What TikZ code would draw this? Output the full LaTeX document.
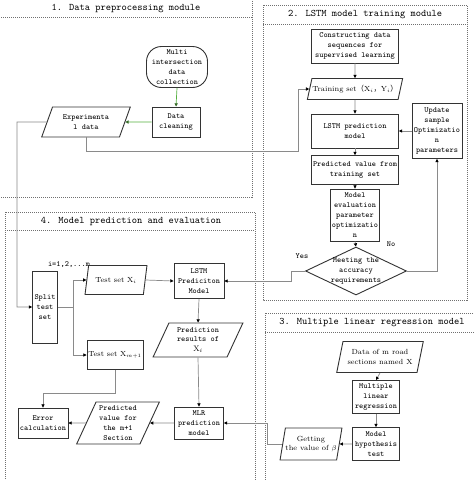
\documentclass[tikz,border=0pt]{standalone}
\usepackage{fontspec}
\newfontfamily\cjk{Noto Sans CJK SC}
\usetikzlibrary{shapes.geometric,arrows.meta}
\definecolor{lineg}{HTML}{8A8A8A}
\definecolor{boxc}{HTML}{333333}
\definecolor{frm}{HTML}{707070}
\definecolor{grn}{HTML}{55B040}
\tikzset{
  txt/.style={font=\fontsize{7.9}{9.8}\selectfont\ttfamily, align=center, inner sep=0pt},
  rtxt/.style={font=\fontsize{7.4}{9.8}\selectfont\rmfamily, align=center, inner sep=0pt},
  box/.style={txt, draw=boxc, line width=0.9pt, rectangle},
  para/.style={txt, draw=boxc, line width=0.9pt, trapezium, trapezium left angle=#1, trapezium right angle=180-#1, trapezium stretches=true},
  stad/.style={txt, draw=boxc, line width=0.9pt, rectangle, rounded corners=15pt},
  dia/.style={draw=boxc, line width=0.9pt, diamond, inner sep=0pt},
  conn/.style={draw=lineg, line width=0.7pt, -{Triangle[length=3.2pt,width=3.2pt,color=black]}},
  gconn/.style={draw=grn, line width=0.7pt, -{Triangle[length=3.2pt,width=3.2pt,color=grn!60!black]}},
  plain/.style={draw=lineg, line width=0.7pt},
  frame/.style={draw=frm, line width=0.6pt, dash pattern=on 1pt off 1pt},
  ttl/.style={font=\fontsize{10}{12}\selectfont\ttfamily, inner sep=0pt},
  lbl/.style={font=\fontsize{7.9}{9.8}\selectfont\ttfamily, inner sep=0pt}
}
\begin{document}
\begin{tikzpicture}[x=1pt,y=-1pt]
\useasboundingbox[fill=white] (0,0) rectangle (474,480);
% module frames
\draw[frame] (-5,-5) rectangle (252,197);
\draw[frame] (-5,17) -- (252,17);
\draw[frame] (263,5) rectangle (467,300);
\draw[frame] (263,24) -- (467,24);
\draw[frame] (5,212) rectangle (255,490);
\draw[frame] (5,230) -- (255,230);
\draw[frame] (265,313) rectangle (480,490);
\draw[frame] (265,332) -- (480,332);
\node[ttl] (t1) at (126,9) {1. Data preprocessing module};
\node[ttl] (t2) at (365,15) {2. LSTM model training module};
\node[ttl] (t4) at (131,221) {4. Model prediction and evaluation};
\node[ttl] (t3) at (372,323) {3. Multiple linear regression model};
% module 1
\node[stad, minimum width=61pt, minimum height=41pt] (mdc) at (177,67) {Multi\\intersection\\data\\collection};
\node[box, minimum width=48pt, minimum height=30pt] (clean) at (176,122) {Data\\cleaning};
\node[para=63, minimum width=89pt, minimum height=30pt] (exp) at (86,122) {Experimenta\\l data};
% module 2
\node[box, minimum width=87pt, minimum height=34pt] (cons) at (355,46) {Constructing data\\sequences for\\supervised learning};
\node[para=60, rtxt, draw=boxc, minimum width=96pt, minimum height=21pt] (train) at (355,89) {Training set{\cjk （}X$_{i}${\cjk ，}Y$_{i}${\cjk ）}};
\node[box, minimum width=87pt, minimum height=34pt] (lstm1) at (355,131) {LSTM prediction\\model};
\node[box, minimum width=50pt, minimum height=55pt] (upd) at (437,131) {Update\\sample\\Optimizatio\\n\\parameters};
\node[box, minimum width=87pt, minimum height=29pt] (pv) at (355,170) {Predicted value from\\training set};
\node[box, minimum width=49pt, minimum height=52pt] (meval) at (355,215) {Model\\evaluation\\parameter\\optimizatio\\n};
\node[dia, minimum width=101pt, minimum height=48pt] (dia) at (356,271) {};
\node[txt] (diat) at (356,271) {Meeting the\\accuracy\\requirements};
\node[lbl] (no) at (391,244) {No};
\node[lbl] (yes) at (302,256) {Yes};
% module 4
\node[box, minimum width=25pt, minimum height=72pt] (split) at (45,307) {Split\\test\\set};
\node[lbl] (iset) at (69,265) {i=1,2,...m};
\node[para=66, rtxt, draw=boxc, minimum width=62pt, minimum height=29pt] (tsi) at (116,280) {Test set X$_{i}$};
\node[box, minimum width=50pt, minimum height=35pt] (lstm2) at (199,281) {LSTM\\Prediciton\\Model};
\node[para=66, minimum width=90pt, minimum height=34pt] (pres) at (198,340) {Prediction\\results of\\{\rmfamily X$_{i}$}};
\node[box, rtxt, draw=boxc, minimum width=56pt, minimum height=29pt] (tsm) at (115,355) {Test set X$_{m+1}$};
\node[box, minimum width=50pt, minimum height=30pt] (err) at (43,423) {Error\\calculation};
\node[para=64, minimum width=83pt, minimum height=42pt] (pvm) at (118,423) {Predicted\\value for\\the m+1\\Section};
\node[box, minimum width=49pt, minimum height=32pt] (mlr) at (199,423) {MLR\\prediction\\model};
% module 3
\node[para=70, rtxt, draw=boxc, minimum width=87pt, minimum height=31pt] (dmr) at (380,357) {Data of m road\\sections named X};
\node[box, minimum width=47pt, minimum height=33pt] (mlreg) at (376,397) {Multiple\\linear\\regression};
\node[box, minimum width=47pt, minimum height=33pt] (mht) at (376,444) {Model\\hypothesis\\test};
\node[para=72, rtxt, draw=boxc, minimum width=62pt, minimum height=32pt] (getb) at (311,444) {Getting\\the value of $\beta$};
% helper coordinates
\coordinate (c1) at (17,122);
\coordinate (c2) at (298,151);
\coordinate (sp) at (73,307);
\coordinate (k) at (43,393);
\coordinate (g) at (267,423);
% connectors module 1
\draw[gconn] (mdc.south) -- (clean.north);
\draw[gconn] (clean.west) -- (exp.east);
\draw[conn] (exp.south) |- (c2) |- (train.west);
\draw[conn] (exp.west) -- (c1) |- (split.west);
% module 2
\draw[conn] (cons.south) -- (train.north);
\draw[conn] (train.south) -- (lstm1.north);
\draw[conn] (lstm1.south) -- (pv.north);
\draw[conn] (pv.south) -- (meval.north);
\draw[conn] (meval.south) -- (dia.north);
\draw[conn] (upd.west) -- (lstm1.east);
\draw[conn] (dia.east) -| (upd.south);
\draw[conn] (dia.west) -- ++(-14,0) |- (lstm2.east);
% module 4
\draw[plain] (split.east) -- (sp);
\draw[conn] (sp) |- (tsi.west);
\draw[conn] (sp) |- (tsm.west);
\draw[conn] (tsi.east) -- (lstm2.west);
\draw[conn] (lstm2.south) -- (pres.north);
\draw[conn] (pres.south) -- (mlr.north);
\draw[conn] (mlr.west) -- (pvm.east);
\draw[conn] (pvm.west) -- (err.east);
\draw[conn] (tsm.south) |- (k) -- (err.north);
% module 3
\draw[conn] (dmr.south) -- (mlreg.north);
\draw[conn] (mlreg.south) -- (mht.north);
\draw[conn] (mht.west) -- (getb.east);
\draw[conn] (getb.west) -| (g) -- (mlr.east);
\end{tikzpicture}
\end{document}
